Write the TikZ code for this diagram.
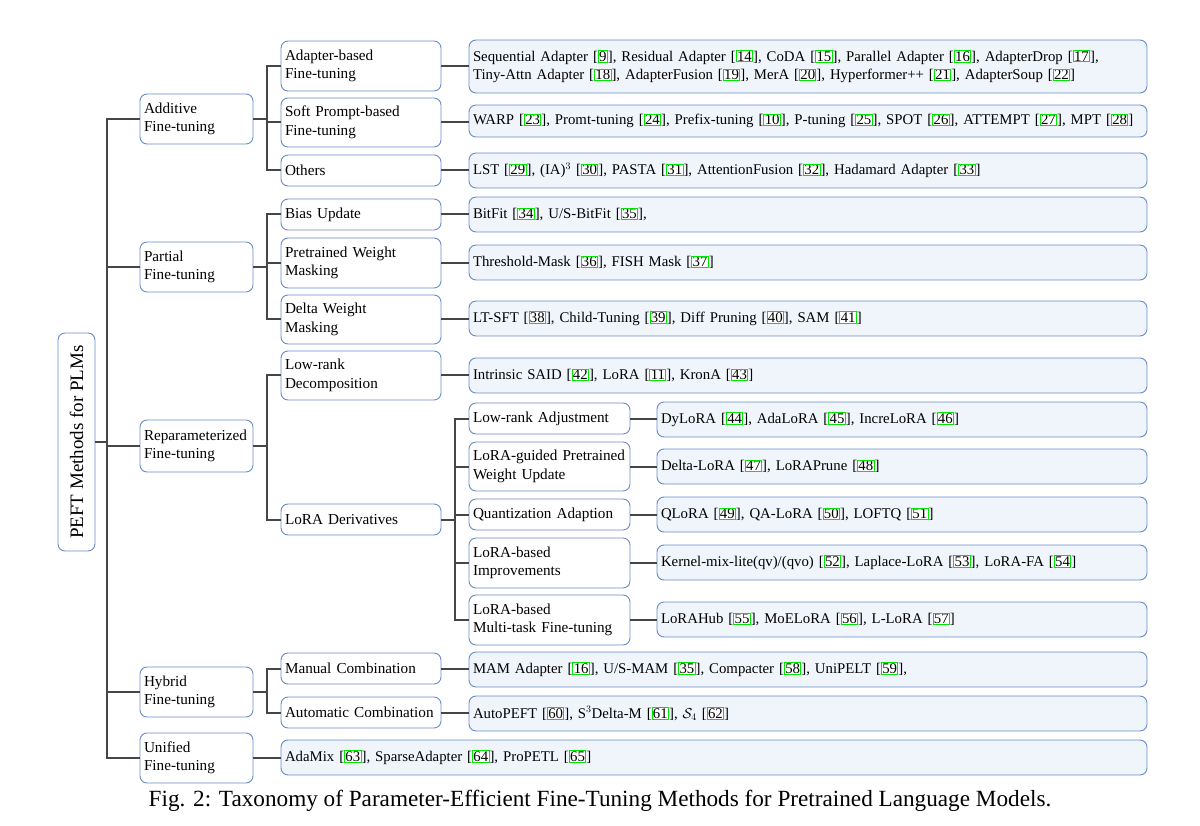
\documentclass[tikz,border=0pt]{standalone}
\usepackage{fontspec}
\setmainfont{Liberation Serif}
\usetikzlibrary{calc}
\definecolor{bd}{RGB}{105,140,200}
\definecolor{lf}{RGB}{240,244,251}
\definecolor{ln}{RGB}{70,70,70}
\definecolor{cg}{RGB}{0,230,0}
\newcommand\ct[1]{[{\fboxsep=0.3pt\fboxrule=1pt\fcolorbox{cg}{white}{#1}}]}
\newcommand\bx[7]{\pgfmathsetmacro\ww{#4-#2}\pgfmathsetmacro\hh{#5-#3}\pgfmathsetmacro\tw{#4-#2-8}%
\node[#7, minimum width=\ww pt, minimum height=\hh pt, text width=\tw pt] (#1) at ({(#2+#4)/2},{(#3+#5)/2}) {#6};}
\begin{document}
\begin{tikzpicture}[x=1pt,y=-1pt,
  base/.style={draw=bd, line width=0.9pt, rounded corners=7pt, inner sep=4pt, align=left, font=\fontsize{15.2}{18.5}\selectfont},
  cat/.style={base, fill=white},
  leaf/.style={base, fill=lf, font=\fontsize{14.8}{18.5}\selectfont},
  tree/.style={draw=ln, line width=2pt}]
\useasboundingbox (0,0) rectangle (1200,826);
% root
\node[draw=bd, line width=0.9pt, rounded corners=7pt, fill=white, minimum width=218pt, minimum height=37pt, rotate=90, font=\fontsize{19}{22}\selectfont] (root) at (76.5,442) {PEFT Methods for PLMs};
% level 1
\bx{add}{140}{94}{253}{144}{Additive\\Fine-tuning}{cat}
\bx{par}{140}{242}{253}{292}{Partial\\Fine-tuning}{cat}
\bx{rep}{140}{420}{253}{472}{Reparameterized\\Fine-tuning}{cat}
\bx{hyb}{140}{667}{253}{717}{Hybrid\\Fine-tuning}{cat}
\bx{uni}{140}{733}{253}{783}{Unified\\Fine-tuning}{cat}
% level 2
\bx{ada}{281}{41}{441}{91}{Adapter-based\\Fine-tuning}{cat}
\bx{sof}{281}{98}{441}{147}{Soft Prompt-based\\Fine-tuning}{cat}
\bx{oth}{281}{155}{441}{186}{Others}{cat}
\bx{bia}{281}{199}{441}{230}{Bias Update}{cat}
\bx{pwm}{281}{238}{441}{288}{Pretrained Weight\\Masking}{cat}
\bx{dwm}{281}{295}{441}{344}{Delta Weight\\Masking}{cat}
\bx{lrd}{281}{351}{441}{400}{Low-rank\\Decomposition}{cat}
\bx{lod}{281}{504}{441}{535}{LoRA Derivatives}{cat}
\bx{man}{281}{653}{441}{684}{Manual Combination}{cat}
\bx{aut}{281}{697}{441}{728}{Automatic Combination}{cat}
% leaves
\bx{l1}{469}{40}{1147}{93}{Sequential Adapter \ct{9}, Residual Adapter \ct{14}, CoDA \ct{15}, Parallel Adapter \ct{16}, AdapterDrop \ct{17},\\Tiny-Attn Adapter \ct{18}, AdapterFusion \ct{19}, MerA \ct{20}, Hyperformer++ \ct{21}, AdapterSoup \ct{22}}{leaf}
\bx{l2}{469}{105}{1147}{137}{WARP \ct{23}, Promt-tuning \ct{24}, Prefix-tuning \ct{10}, P-tuning \ct{25}, SPOT \ct{26}, ATTEMPT \ct{27}, MPT~\ct{28}}{leaf}
\bx{l3}{469}{153}{1147}{188}{LST \ct{29}, (IA)$^3$ \ct{30}, PASTA \ct{31}, AttentionFusion \ct{32}, Hadamard Adapter \ct{33}}{leaf}
\bx{l4}{469}{197}{1147}{232}{BitFit \ct{34}, U/S-BitFit \ct{35},}{leaf}
\bx{l5}{469}{245}{1147}{280}{Threshold-Mask \ct{36}, FISH Mask \ct{37}}{leaf}
\bx{l6}{469}{301}{1147}{336}{LT-SFT \ct{38}, Child-Tuning \ct{39}, Diff Pruning \ct{40}, SAM \ct{41}}{leaf}
\bx{l7}{469}{358}{1147}{393}{Intrinsic SAID \ct{42}, LoRA \ct{11}, KronA \ct{43}}{leaf}
\bx{l8}{469}{652}{1147}{687}{MAM Adapter \ct{16}, U/S-MAM \ct{35}, Compacter \ct{58}, UniPELT \ct{59},}{leaf}
\bx{l9}{469}{696}{1147}{731}{AutoPEFT \ct{60}, S$^3$Delta-M \ct{61}, $\mathcal{S}_4$ \ct{62}}{leaf}
\bx{l10}{281}{740}{1147}{775}{AdaMix \ct{63}, SparseAdapter \ct{64}, ProPETL \ct{65}}{leaf}
% LoRA derivatives sub
\bx{d1}{469}{403}{630}{434}{Low-rank Adjustment}{cat}
\bx{d2}{469}{442}{630}{491}{LoRA-guided Pretrained\\Weight Update}{cat}
\bx{d3}{469}{499}{630}{530}{Quantization Adaption}{cat}
\bx{d4}{469}{538}{630}{588}{LoRA-based\\Improvements}{cat}
\bx{d5}{469}{595}{630}{645}{LoRA-based\\Multi-task Fine-tuning}{cat}
\bx{e1}{657}{402}{1147}{437}{DyLoRA \ct{44}, AdaLoRA \ct{45}, IncreLoRA \ct{46}}{leaf}
\bx{e2}{657}{449}{1147}{484}{Delta-LoRA \ct{47}, LoRAPrune \ct{48}}{leaf}
\bx{e3}{657}{497}{1147}{532}{QLoRA \ct{49}, QA-LoRA \ct{50}, LOFTQ \ct{51}}{leaf}
\bx{e4}{657}{545}{1147}{580}{Kernel-mix-lite(qv)/(qvo) \ct{52}, Laplace-LoRA \ct{53}, LoRA-FA \ct{54}}{leaf}
\bx{e5}{657}{602}{1147}{637}{LoRAHub \ct{55}, MoELoRA \ct{56}, L-LoRA \ct{57}}{leaf}
% tree
\foreach \c in {add,par,rep,hyb,uni} \draw[tree] (root.south) -- ++(12,0) |- (\c.west);
\foreach \c in {ada,sof,oth} \draw[tree] (add.east) -- ++(14,0) |- (\c.west);
\foreach \c in {bia,pwm,dwm} \draw[tree] (par.east) -- ++(14,0) |- (\c.west);
\foreach \c in {lrd,lod} \draw[tree] (rep.east) -- ++(14,0) |- (\c.west);
\foreach \c in {man,aut} \draw[tree] (hyb.east) -- ++(14,0) |- (\c.west);
\draw[tree] (uni.east) -- (uni.east -| l10.west);
\foreach \c in {d1,d2,d3,d4,d5} \draw[tree] (lod.east) -- ++(14,0) |- (\c.west);
\foreach \a/\b in {ada/l1,sof/l2,oth/l3,bia/l4,pwm/l5,dwm/l6,lrd/l7,man/l8,aut/l9,d1/e1,d2/e2,d3/e3,d4/e4,d5/e5}
  \draw[tree] (\a.east) -- (\a.east -| \b.west);
\node[font=\fontsize{23.2}{27}\selectfont] (cap) at (600,801) {Fig. 2: Taxonomy of Parameter-Efficient Fine-Tuning Methods for Pretrained Language Models.};
\end{tikzpicture}
\end{document}
